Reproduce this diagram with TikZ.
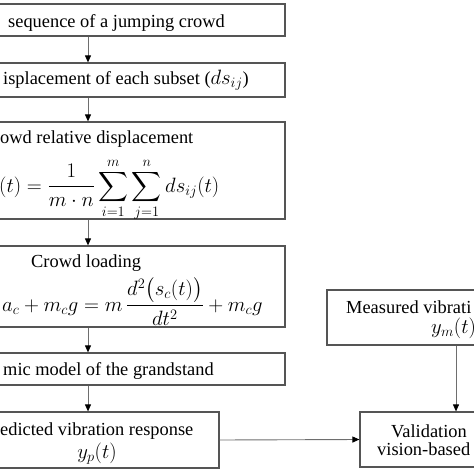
\documentclass[tikz,border=0pt]{standalone}
\usepackage{amsmath}
\usepackage{fontspec}
\setmainfont{Liberation Serif}
\usetikzlibrary{arrows.meta}
\definecolor{boxgray}{RGB}{85,85,85}
\definecolor{linegray}{RGB}{110,110,110}
\newcommand{\bigmath}[1]{{\fontsize{21.5}{24}\selectfont$#1$}}
\begin{document}
\begin{tikzpicture}[x=1pt,y=-1pt,
  box/.style={draw=boxgray, line width=1.2pt, inner sep=0pt, rectangle},
  lbl/.style={anchor=base west, inner sep=0pt, font=\fontsize{18.4}{22}\selectfont},
  conn/.style={draw=linegray, line width=0.9pt, -{Triangle[length=7pt,width=6pt,color=black]}}
]
\useasboundingbox (0,0) rectangle (474,474);
\clip (0,0) rectangle (474,474);
% boxes
\node[box, minimum width=394pt, minimum height=32pt] (b1) at (88,20) {};
\node[box, minimum width=394pt, minimum height=34pt] (b2) at (88,80) {};
\node[box, minimum width=394pt, minimum height=97pt] (b3) at (88,170.5) {};
\node[box, minimum width=394pt, minimum height=81pt] (b4) at (88,286.5) {};
\node[box, minimum width=394pt, minimum height=32pt] (b5) at (88,369) {};
\node[box, minimum width=262pt, minimum height=56pt] (b6) at (88,440) {};
\node[box, minimum width=258pt, minimum height=55pt] (meas) at (456,317.5) {};
\node[box, minimum width=192pt, minimum height=55pt] (val) at (456,439.5) {};
% texts
\node[lbl] (t1) at (8,27) {sequence of a jumping crowd};
\node[lbl] (t2) at (3,84) {isplacement of each subset (\bigmath{ds_{ij}})};
\node[lbl] (t3a) at (0,143) {owd relative displacement};
\node[lbl] (t3b) at (-1,192) {\bigmath{\displaystyle (t) = \frac{1}{m\cdot n}\sum_{i=1}^{m}\sum_{j=1}^{n} ds_{ij}(t)}};
\node[lbl] (t4a) at (31,267) {Crowd loading};
\node[lbl] (t4b) at (2,311) {\bigmath{\displaystyle a_c + m_c g = m\,\frac{d^2\bigl(s_c(t)\bigr)}{dt^2} + m_c g}};
\node[lbl] (t5) at (3,375) {mic model of the grandstand};
\node[lbl] (t6a) at (0,435) {edicted vibration response};
\node[lbl, anchor=base] (t6b) at (97,458) {\bigmath{y_p(t)}};
\node[lbl] (tm1) at (346,313) {Measured vibrati};
\node[lbl] (tm2) at (431,333) {\bigmath{y_m(t)}};
\node[lbl] (tv1) at (391,437) {Validation};
\node[lbl] (tv2) at (377,455) {vision-based};
% connectors
\draw[conn] (b1.south) -- (b2.north);
\draw[conn] (b2.south) -- (b3.north);
\draw[conn] (b3.south) -- (b4.north);
\draw[conn] (b4.south) -- (b5.north);
\draw[conn] (b5.south) -- (b6.north);
\draw[conn] (b6.east) -- (val.west);
\draw[conn] (meas.south) -- (val.north);
\end{tikzpicture}
\end{document}
